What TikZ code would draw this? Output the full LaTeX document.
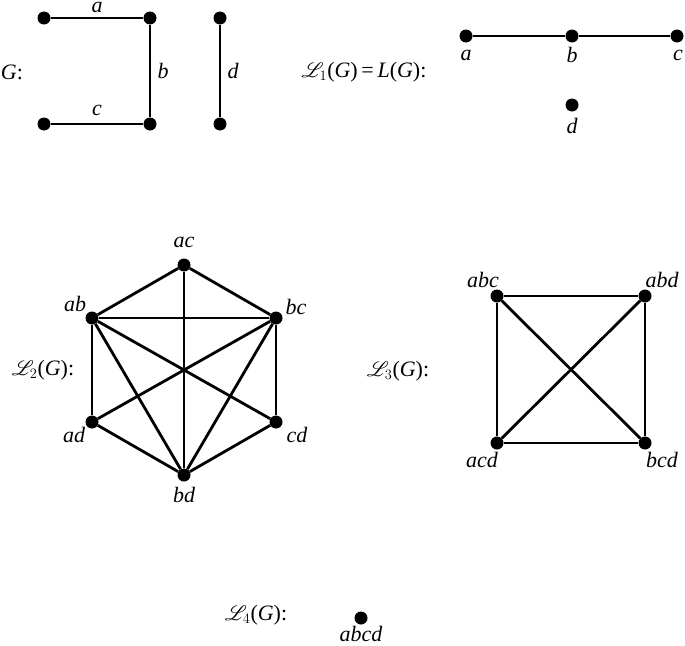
\documentclass[tikz,border=0pt]{standalone}
\usepackage{mathrsfs}
\usepackage{fontspec}
\setmainfont{Liberation Serif}
\begin{document}
\begin{tikzpicture}[x=1pt,y=-1pt,
  vtx/.style={circle,fill=black,inner sep=0pt,minimum size=13pt},
  edge/.style={line width=2.8pt},
  lab/.style={font=\fontsize{22}{26}\selectfont\itshape,inner sep=0pt},
  ttl/.style={font=\fontsize{22}{26}\selectfont,inner sep=0pt}]
\useasboundingbox (0,0) rectangle (685,645);
% G
\node[vtx] (g1) at (44,18) {};
\node[vtx] (g2) at (150,18) {};
\node[vtx] (g3) at (44,124) {};
\node[vtx] (g4) at (150,124) {};
\node[vtx] (g5) at (220,18) {};
\node[vtx] (g6) at (220,124) {};
\draw[edge] (g1) -- (g2);
\draw[edge] (g2) -- (g4);
\draw[edge] (g3) -- (g4);
\draw[edge] (g5) -- (g6);
\node[lab] (ea) at (97,7) {a};
\node[lab] (eb) at (163,71) {b};
\node[lab] (ec) at (97,110) {c};
\node[lab] (ed) at (233,71) {d};
\node[ttl] (tg) at (12,72) {\textit{G}:};
% L1
\node[vtx] (la) at (466,36) {};
\node[vtx] (lb) at (572,36) {};
\node[vtx] (lc) at (677,36) {};
\node[vtx] (ld) at (572,105) {};
\draw[edge] (la) -- (lb) -- (lc);
\node[lab] (xa) at (466,55) {a};
\node[lab] (xb) at (572,55) {b};
\node[lab] (xc) at (678,55) {c};
\node[lab] (xd) at (572,126) {d};
\node[ttl] (t1) at (364,72) {$\mathscr{L}_1$(\textit{G})\,=\,\textit{L}(\textit{G}):};
% L2
\node[vtx] (ac) at (184,265) {};
\node[vtx] (ab) at (92,318) {};
\node[vtx] (bc) at (276,318) {};
\node[vtx] (ad) at (92,422) {};
\node[vtx] (cd) at (276,422) {};
\node[vtx] (bd) at (184,475) {};
\foreach \u/\v in {ac/ab,ac/bc,ac/bd,ab/bc,ab/ad,ab/bd,ab/cd,bc/cd,bc/bd,bc/ad,ad/bd,cd/bd}
  \draw[edge] (\u) -- (\v);
\node[lab] (lac) at (184,242) {ac};
\node[lab] (lab) at (75,304) {ab};
\node[lab] (lbc) at (296,307) {bc};
\node[lab] (lad) at (74,435) {ad};
\node[lab] (lcd) at (297,435) {cd};
\node[lab] (lbd) at (184,495) {bd};
\node[ttl] (t2) at (43,370) {$\mathscr{L}_2$(\textit{G}):};
% L3
\node[vtx] (abc) at (497,296) {};
\node[vtx] (abd) at (645,296) {};
\node[vtx] (acd) at (497,443) {};
\node[vtx] (bcd) at (645,443) {};
\foreach \u/\v in {abc/abd,abc/acd,abc/bcd,abd/acd,abd/bcd,acd/bcd}
  \draw[edge] (\u) -- (\v);
\node[lab] (labc) at (483,280) {abc};
\node[lab] (labd) at (662,280) {abd};
\node[lab] (lacd) at (482,460) {acd};
\node[lab] (lbcd) at (662,460) {bcd};
\node[ttl] (t3) at (398,371) {$\mathscr{L}_3$(\textit{G}):};
% L4
\node[vtx] (abcd) at (361,618) {};
\node[lab] (labcd) at (361,634) {abcd};
\node[ttl] (t4) at (256,615) {$\mathscr{L}_4$(\textit{G}):};
\end{tikzpicture}
\end{document}
